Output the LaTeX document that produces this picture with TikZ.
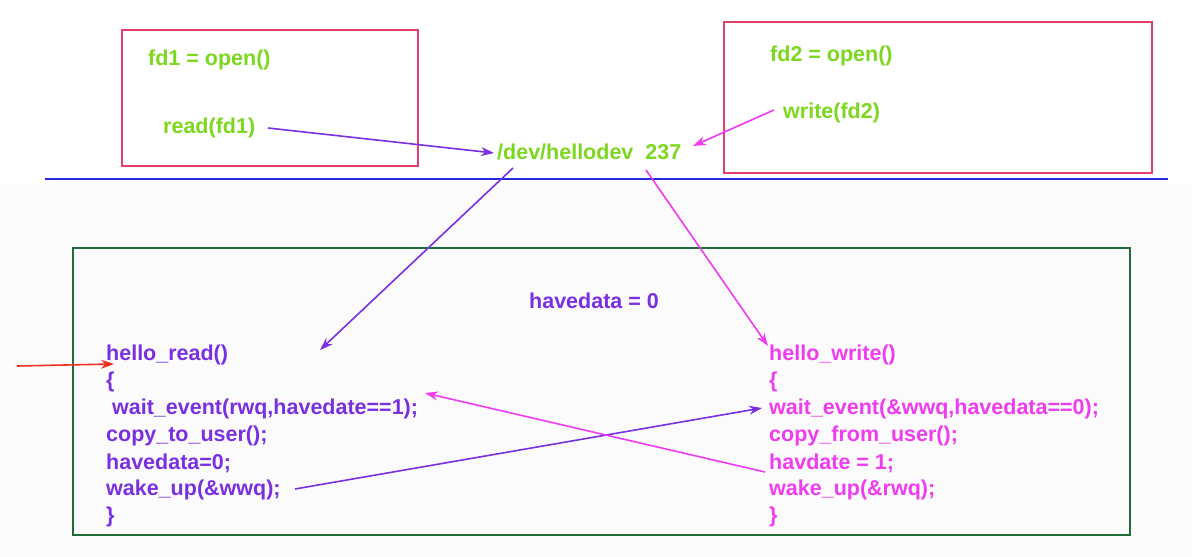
\documentclass[tikz,border=0pt]{standalone}
\usepackage{fontspec}
\setmainfont{Liberation Sans}
\usetikzlibrary{arrows.meta}
\definecolor{gtxt}{HTML}{7CD81E}
\definecolor{ptxt}{HTML}{7A2FE0}
\definecolor{mtxt}{HTML}{F03CF0}
\definecolor{rbox}{HTML}{E0406A}
\definecolor{gbox}{HTML}{1F6B3A}
\definecolor{bline}{HTML}{2828E0}
\definecolor{rarr}{HTML}{F03020}
\tikzset{
 lbl/.style={anchor=west,inner sep=0pt,font=\fontsize{21.5}{24}\selectfont\bfseries},
 arr/.style={-{Stealth[length=13pt,width=9pt]},line width=1.6pt},
}
\begin{document}
\begin{tikzpicture}[x=1pt,y=-1pt]
\useasboundingbox (0,0) rectangle (1192,557);
\fill[white] (0,0) rectangle (1192,557);
\fill[gray!3] (0,185) rectangle (1192,557);
\draw[rbox,line width=1.3pt] (122,30) rectangle (418,166);
\draw[rbox,line width=1.3pt] (724,22) rectangle (1152,173);
\draw[bline,line width=1.4pt] (45,179) -- (1168,179);
\draw[gbox,line width=1.3pt] (73,248) rectangle (1130,535);
\node[lbl,gtxt] (fd1) at (148,60) {fd1 = open()};
\node[lbl,gtxt] (rd) at (163,128) {read(fd1)};
\node[lbl,gtxt] (fd2) at (770,56) {fd2 = open()};
\node[lbl,gtxt] (wr) at (783,113) {write(fd2)};
\node[lbl,gtxt] (dev) at (497,152) {/dev/hellodev\ \ 237};
\node[lbl,ptxt,anchor=center] (hd) at (594,301) {havedata = 0};
\foreach \t [count=\i] in {hello\_read(),\{,{\ wait\_event(rwq,havedate==1);},copy\_to\_user();,havedata=0;,wake\_up(\&wwq);,\}}
  \node[lbl,ptxt] (L\i) at (106,328+27*\i) {\t};
\foreach \t [count=\i] in {hello\_write(),\{,{wait\_event(\&wwq,havedata==0);},copy\_from\_user();,havdate = 1;,wake\_up(\&rwq);,\}}
  \node[lbl,mtxt] (R\i) at (769,328+27*\i) {\t};
\coordinate (rs) at (17,366);
\coordinate (re) at (114,364);
\coordinate (a1) at (268,128); \coordinate (a1e) at (494,153);
\coordinate (a2) at (774,110); \coordinate (a2e) at (693,146);
\coordinate (a3) at (513,168); \coordinate (a3e) at (320,350);
\coordinate (a4) at (646,170); \coordinate (a4e) at (768,346);
\coordinate (a5) at (295,489); \coordinate (a5e) at (762,408);
\coordinate (a6) at (765,472); \coordinate (a6e) at (425,393);
\draw[arr,ptxt] (a1) -- (a1e);
\draw[arr,mtxt] (a2) -- (a2e);
\draw[arr,ptxt] (a3) -- (a3e);
\draw[arr,mtxt] (a4) -- (a4e);
\draw[arr,rarr] (rs) -- (re);
\draw[arr,ptxt] (a5) -- (a5e);
\draw[arr,mtxt] (a6) -- (a6e);
\end{tikzpicture}
\end{document}
